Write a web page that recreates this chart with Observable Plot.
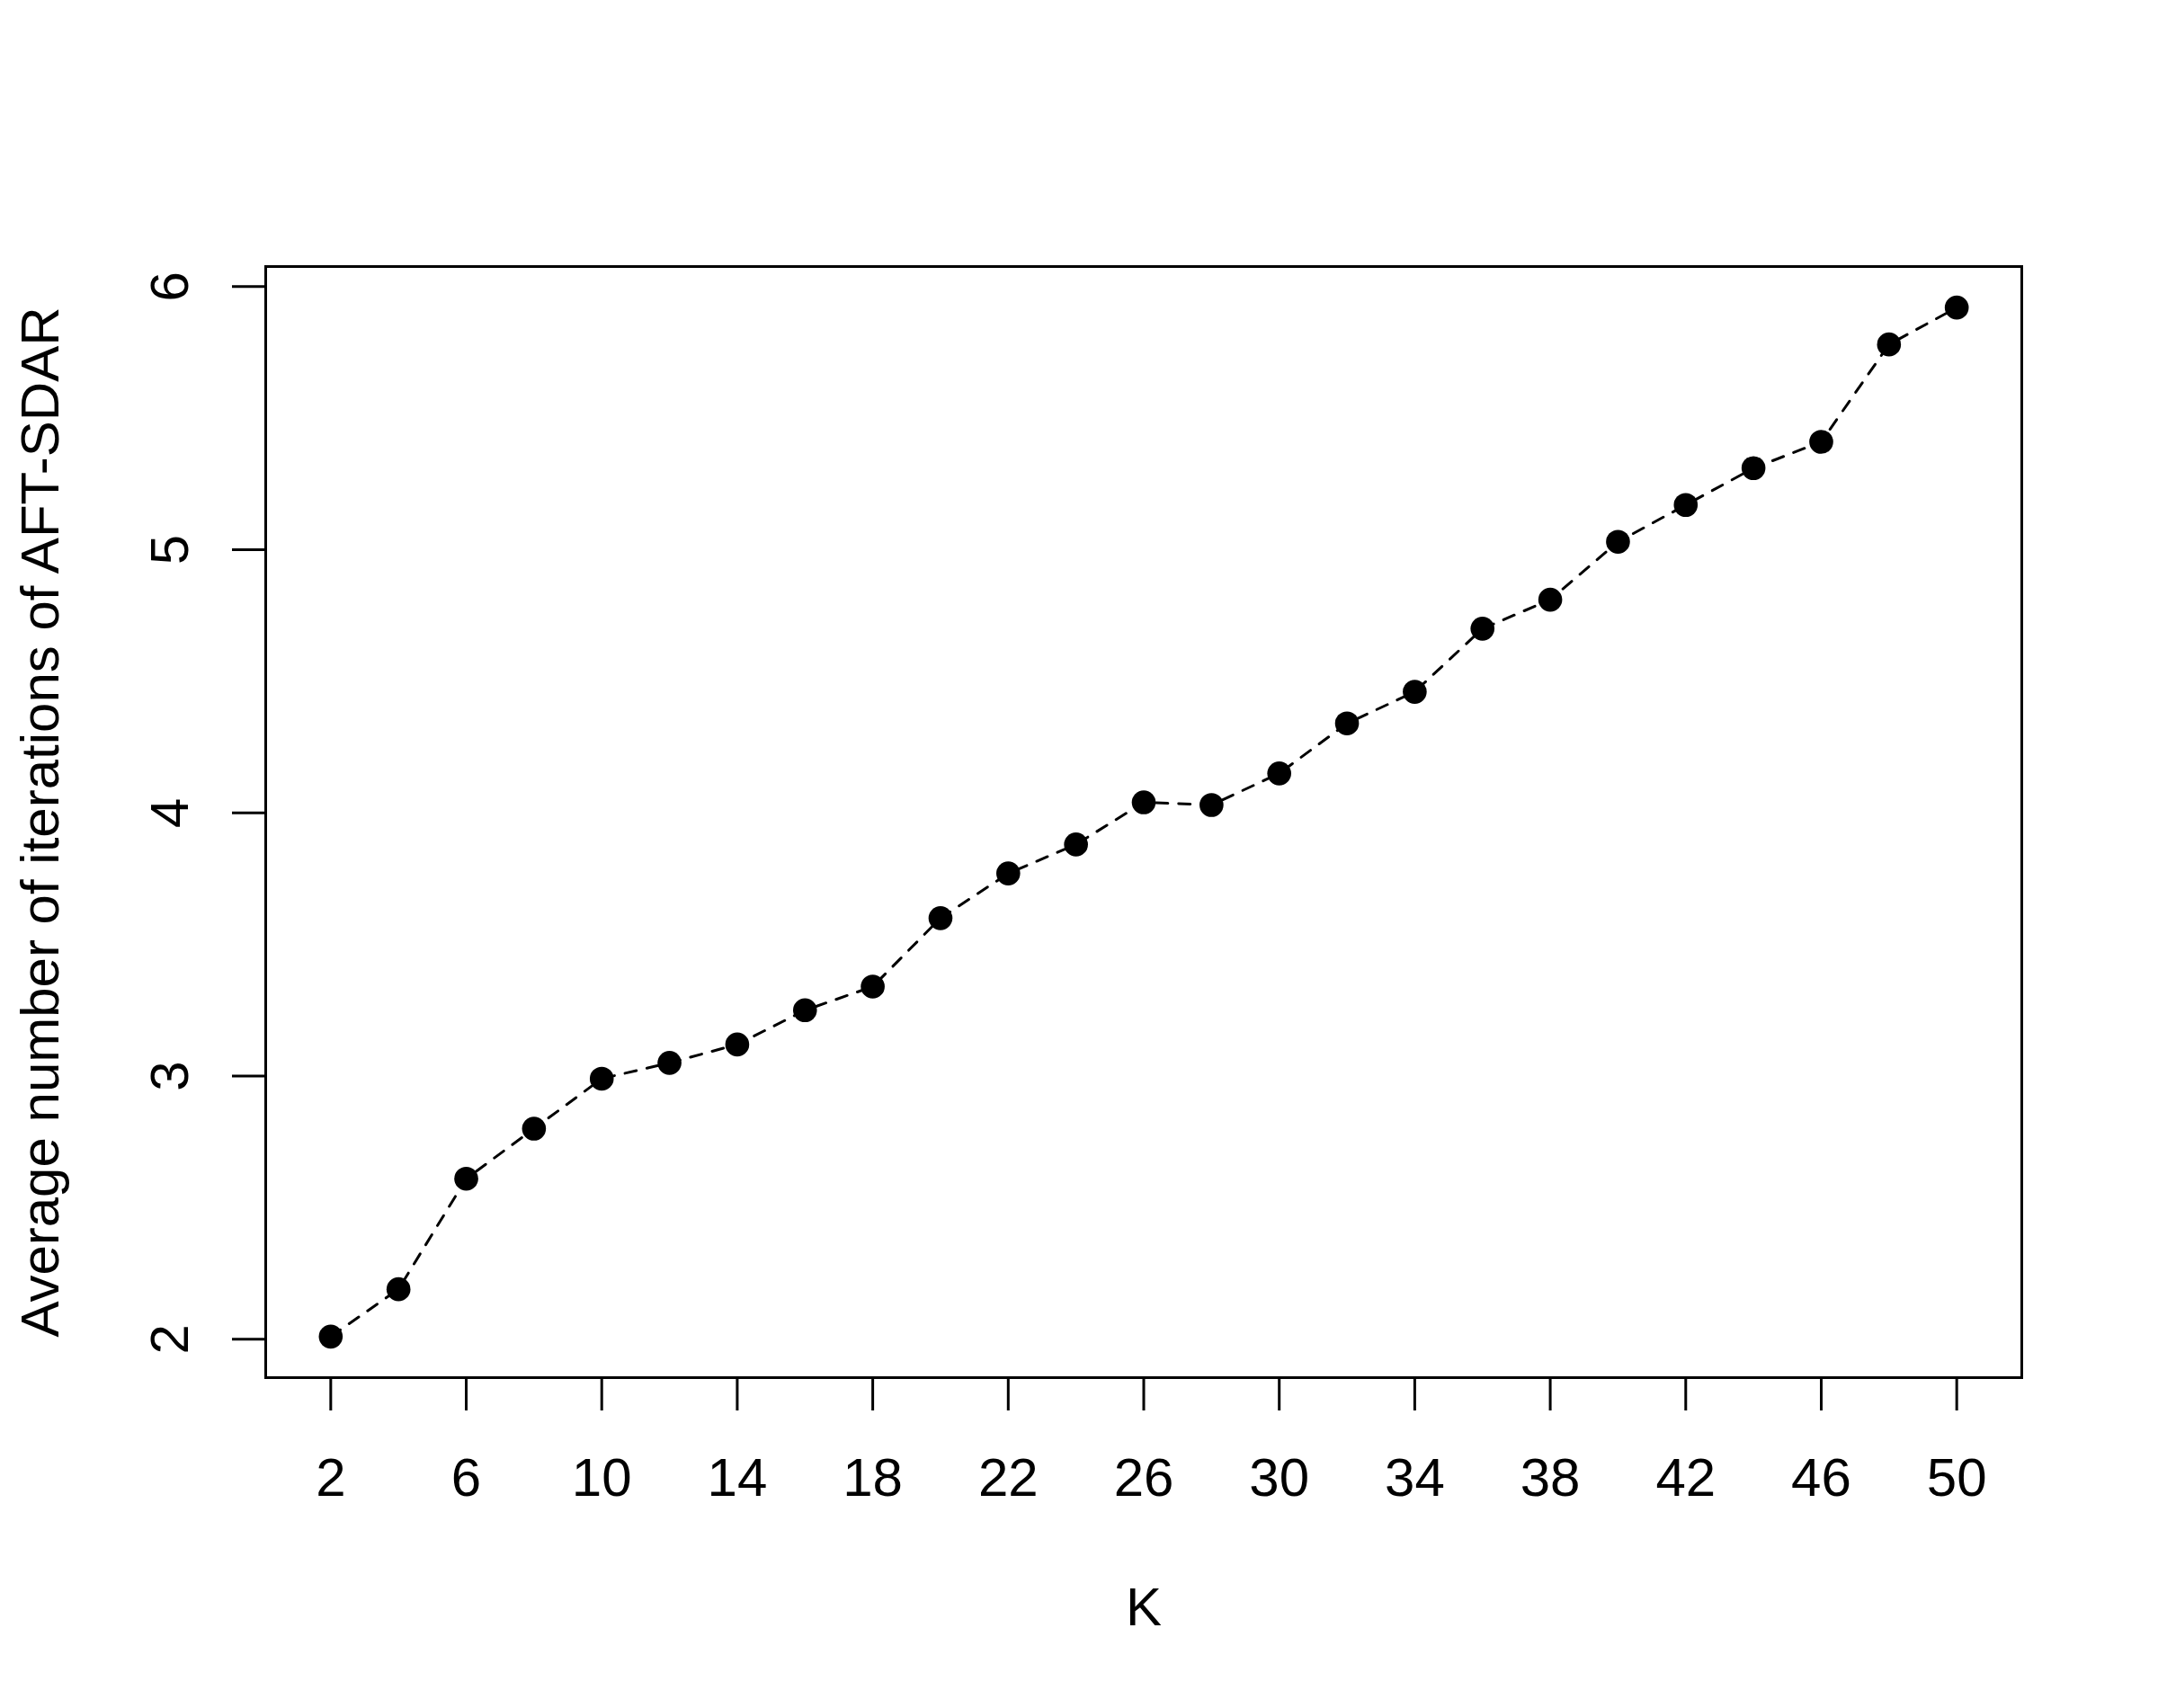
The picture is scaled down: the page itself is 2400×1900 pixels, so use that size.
<!DOCTYPE html>
<html>
<head>
<meta charset="utf-8">
<script src="https://cdn.jsdelivr.net/npm/d3@7"></script>
<script src="https://cdn.jsdelivr.net/npm/@observablehq/plot@0.6"></script>
<style>
  html, body { margin: 0; padding: 0; background: #fff; }
  #chart svg { display: block; }
</style>
</head>
<body>
<div id="chart"></div>
<script>
const kValues = [2, 4, 6, 8, 10, 12, 14, 16, 18, 20, 22, 24, 26, 28, 30, 32, 34, 36, 38, 40, 42, 44, 46, 48, 50];
const avgIterations = [2.01, 2.19, 2.61, 2.80, 2.99, 3.05, 3.12, 3.25, 3.34, 3.60, 3.77, 3.88, 4.04, 4.03, 4.15, 4.34, 4.46, 4.70, 4.81, 5.03, 5.17, 5.31, 5.41, 5.78, 5.92];
const xTicks = [2, 6, 10, 14, 18, 22, 26, 30, 34, 38, 42, 46, 50];
const yTicks = [2, 3, 4, 5, 6];
const xLabel = "K";
const yLabel = "Average number of iterations of AFT-SDAR";

const data = kValues.map((k, i) => ({K: k, v: avgIterations[i]}));

const chart = Plot.plot({
  width: 2400,
  height: 1900,
  marginLeft: 295,
  marginRight: 152,
  marginTop: 296,
  marginBottom: 368,
  style: {background: "#fff", fontFamily: "'Liberation Sans', Arial, sans-serif", color: "#000"},
  x: {domain: [0.08, 51.92]},
  y: {domain: [1.854, 6.076]},
  marks: [
    Plot.frame({stroke: "#000", strokeWidth: 3}),
    Plot.axisX({
      ticks: xTicks, tickSize: 37, tickPadding: 52, strokeWidth: 3,
      fontSize: 60, tickFormat: d => String(d),
      label: xLabel, labelAnchor: "center", labelArrow: "none", labelOffset: 275
    }),
    Plot.axisY({
      ticks: yTicks, tickSize: 37, tickPadding: 50, strokeWidth: 3,
      fontSize: 60, tickRotate: -90, tickFormat: d => String(d),
      label: yLabel, labelAnchor: "center", labelArrow: "none", labelOffset: 273
    }),
    Plot.line(data, {x: "K", y: "v", stroke: "#000", strokeWidth: 3, strokeDasharray: "13,12"}),
    Plot.dot(data, {x: "K", y: "v", r: 13.3, fill: "#000", stroke: null})
  ]
});
document.getElementById("chart").appendChild(chart);
</script>
</body>
</html>
